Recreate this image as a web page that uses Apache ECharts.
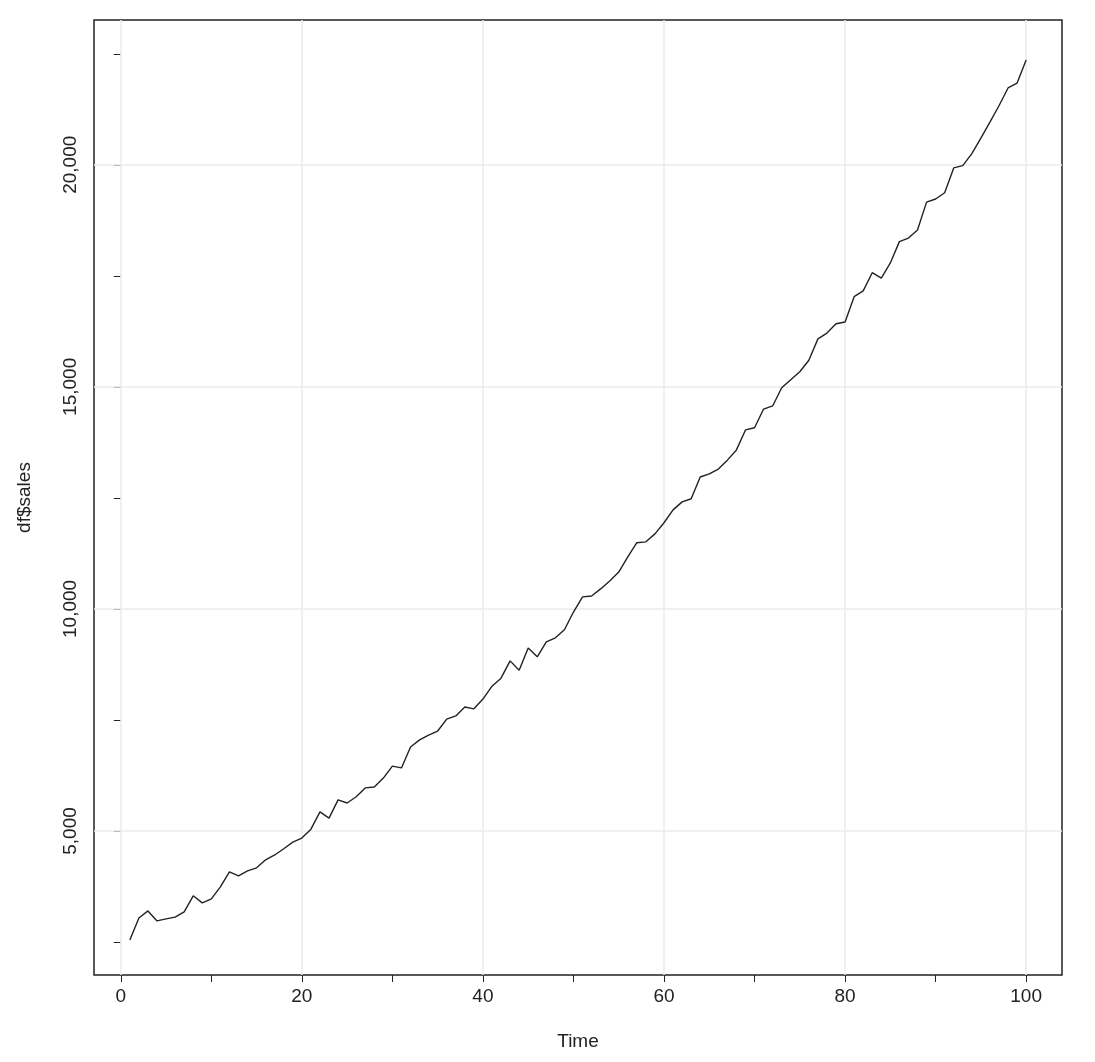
<!DOCTYPE html>
<html>
<head>
<meta charset="utf-8">
<script src="https://cdn.jsdelivr.net/npm/echarts@6/dist/echarts.min.js"></script>
<style>
  html, body { margin: 0; padding: 0; background: #fff; }
  #main { width: 1095px; height: 1062px; }
</style>
</head>
<body>
<div id="main"></div>
<script>
// df$sales, t = 1..100
const sales = [
  2545, 3040, 3200, 2975, 3020, 3060, 3180, 3540, 3380, 3470,
  3740, 4080, 3990, 4100, 4170, 4350, 4460, 4600, 4750, 4840,
  5040, 5430, 5290, 5700, 5630, 5770, 5970, 5990, 6190, 6460,
  6420, 6890, 7050, 7160, 7250, 7520, 7590, 7790, 7750, 7970,
  8260, 8440, 8830, 8620, 9120, 8920, 9260, 9350, 9530, 9930,
  10270, 10290, 10450, 10630, 10830, 11170, 11490, 11510, 11690, 11940,
  12230, 12410, 12480, 12970, 13040, 13150, 13350, 13580, 14030, 14080,
  14500, 14570, 14980, 15160, 15340, 15600, 16080, 16210, 16420, 16460,
  17030, 17160, 17570, 17450, 17790, 18270, 18350, 18530, 19160, 19230,
  19370, 19930, 19980, 20250, 20600, 20960, 21330, 21730, 21840, 22360
];
const xTicks = [0, 10, 20, 30, 40, 50, 60, 70, 80, 90, 100];
const xLabels = [0, 20, 40, 60, 80, 100];
const yTicks = [2500, 5000, 7500, 10000, 12500, 15000, 17500, 20000, 22500];
const yLabels = [5000, 10000, 15000, 20000];

const points = sales.map((v, i) => [i + 1, v]);
const font = 'Liberation Sans, Arial, sans-serif';
const gridStyle = { color: '#ebebeb', width: 1.5, type: 'solid' };

const chart = echarts.init(document.getElementById('main'));
chart.setOption({
  backgroundColor: '#fff',
  animation: false,
  grid: { left: 94, right: 33, top: 20, bottom: 87, show: true, borderColor: '#222', borderWidth: 1.5 },
  xAxis: {
    type: 'value', min: -2.96, max: 103.96,
    name: 'Time', nameLocation: 'middle', nameGap: 57,
    nameTextStyle: { fontFamily: font, fontSize: 19, color: '#222' },
    axisLine: { show: false },
    axisTick: { show: true, customValues: xTicks, length: 7, lineStyle: { color: '#222' } },
    axisLabel: { customValues: xLabels, fontFamily: font, fontSize: 19, color: '#222', margin: 12 },
    splitLine: { show: false }
  },
  yAxis: {
    type: 'value', min: 1757, max: 23260,
    name: 'df$sales', nameLocation: 'middle', nameGap: 60,
    nameTextStyle: { fontFamily: font, fontSize: 19, color: '#222' },
    axisLine: { show: false },
    axisTick: { show: true, customValues: yTicks, length: 7, lineStyle: { color: '#222' } },
    axisLabel: { customValues: yLabels, rotate: 90, fontFamily: font, fontSize: 19, color: '#222', margin: 14 },
    splitLine: { show: false }
  },
  series: [{
    type: 'line', data: points, showSymbol: false,
    lineStyle: { color: '#222', width: 1.4 },
    markLine: {
      silent: true, symbol: 'none', label: { show: false },
      lineStyle: gridStyle, z: 1,
      data: xLabels.map(v => ({ xAxis: v })).concat(yLabels.map(v => ({ yAxis: v })))
    }
  }]
});
</script>
</body>
</html>
